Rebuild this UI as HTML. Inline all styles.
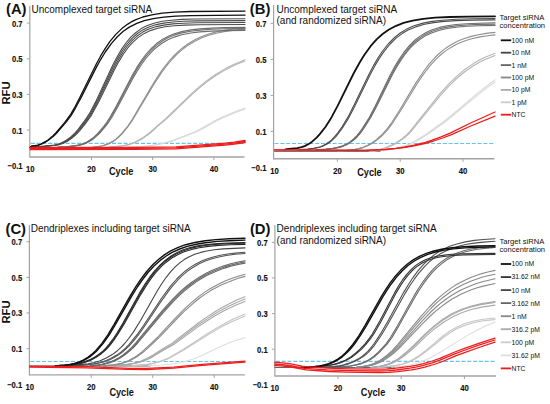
<!DOCTYPE html>
<html><head><meta charset="utf-8"><style>
html,body{margin:0;padding:0;background:#fff;}
body{width:550px;height:404px;overflow:hidden;}
svg{display:block;}
text{font-family:"Liberation Sans",sans-serif;fill:#111;}
.tk{font-size:9.2px;font-weight:bold;stroke:#111;stroke-width:0.15px;}
.tk2{font-size:9.4px;font-weight:bold;stroke:#111;stroke-width:0.15px;}
.tt{font-size:10px;}
.pl{font-size:14.8px;font-weight:bold;}
.cy{font-size:10.2px;font-weight:bold;}
.rfu{font-size:11.3px;font-weight:bold;}
.lh{font-size:7.6px;}
.li{font-size:6.8px;}
</style></head><body>
<svg width="550" height="404" viewBox="0 0 550 404">
<line x1="29.8" y1="6" x2="29.8" y2="157.6" stroke="#a3a3a3" stroke-width="1.2"/>
<line x1="29.8" y1="157.0" x2="244.5" y2="157.0" stroke="#a3a3a3" stroke-width="1.4"/>
<line x1="26.8" y1="23.1" x2="29.8" y2="23.1" stroke="#a3a3a3" stroke-width="1"/>
<line x1="26.8" y1="58.8" x2="29.8" y2="58.8" stroke="#a3a3a3" stroke-width="1"/>
<line x1="26.8" y1="94.4" x2="29.8" y2="94.4" stroke="#a3a3a3" stroke-width="1"/>
<line x1="26.8" y1="130.1" x2="29.8" y2="130.1" stroke="#a3a3a3" stroke-width="1"/>
<line x1="91.5" y1="157.0" x2="91.5" y2="160.0" stroke="#a3a3a3" stroke-width="1"/>
<line x1="152.7" y1="157.0" x2="152.7" y2="160.0" stroke="#a3a3a3" stroke-width="1"/>
<line x1="213.9" y1="157.0" x2="213.9" y2="160.0" stroke="#a3a3a3" stroke-width="1"/>
<line x1="30.8" y1="143.4" x2="244.5" y2="143.4" stroke="#62c4ee" stroke-width="1.1" stroke-dasharray="4,1.8"/>
<g fill="none" stroke-linecap="round" stroke-linejoin="round">
<path d="M30.3,147.5 L140,147.5" stroke="#666" stroke-width="1.2"/>
<path d="M126.3,147.5 127.8,147.1 141.3,146.5 150.3,145.7 160.8,143.8 169.8,141.4 177.3,138.7 193.8,132.2 201.3,128.5 214.8,120.8 220.8,117.8 234.3,111.9 245.0,108.0" stroke="#d9d9d9" stroke-width="1.1"/>
<path d="M127.8,147.5 129.3,147.1 142.8,146.5 151.8,145.6 162.3,143.8 171.3,141.4 195.3,132.3 202.8,128.7 214.8,121.8 220.8,118.8 234.3,113.0 245.0,109.1" stroke="#d9d9d9" stroke-width="1.1"/>
<path d="M108.3,147.5 109.8,147.1 123.3,145.7 129.3,144.4 135.3,142.0 142.8,137.8 148.8,133.5 157.8,125.3 166.8,117.7 190.8,94.3 198.3,87.6 205.8,81.5 214.8,75.0 225.3,68.6 234.3,64.2 245.0,59.8" stroke="#b5b5b5" stroke-width="1.1"/>
<path d="M108.3,147.5 109.8,147.1 123.3,145.8 129.3,144.6 135.3,142.5 142.8,138.4 147.3,135.4 150.3,133.0 157.8,126.2 166.8,118.7 192.3,94.2 199.8,87.6 207.3,81.6 216.3,75.3 225.3,69.9 234.3,65.3 245.0,61.0" stroke="#b5b5b5" stroke-width="1.1"/>
<path d="M91.8,147.5 93.3,147.1 97.8,146.6 102.3,145.8 105.3,144.9 108.3,143.7 112.8,141.2 115.8,139.1 118.8,136.5 121.8,133.4 127.8,126.0 132.3,119.3 151.8,86.0 157.8,76.4 162.3,69.9 168.3,62.0 172.8,56.9 177.3,52.4 183.3,47.2 189.3,43.0 195.3,39.5 201.3,36.7 208.8,34.0 216.3,31.9 225.3,30.1 234.3,28.9 245.0,27.9" stroke="#8f8f8f" stroke-width="1.1"/>
<path d="M91.8,147.5 102.3,146.0 108.3,144.0 112.8,141.7 115.8,139.6 118.8,137.1 121.8,134.2 127.8,127.0 132.3,120.5 153.3,85.1 162.3,71.5 168.3,63.6 172.8,58.5 177.3,53.9 183.3,48.7 189.3,44.4 195.3,40.9 201.3,38.1 208.8,35.3 216.3,33.2 225.3,31.4 234.3,30.1 245.0,29.1" stroke="#8f8f8f" stroke-width="1.1"/>
<path d="M57.3,147.5 58.8,147.1 66.3,146.7 73.8,145.9 78.3,145.1 82.8,143.8 87.3,141.7 90.3,139.8 93.3,137.6 97.8,133.3 103.8,126.3 106.8,122.3 109.8,117.6 115.8,106.9 132.3,75.2 136.8,67.4 141.3,60.5 145.8,54.5 151.8,47.8 156.3,43.8 162.3,39.4 168.3,36.2 174.3,33.8 181.8,31.6 190.8,29.9 199.8,28.9 211.8,28.1 225.3,27.6 245.0,27.4" stroke="#6e6e6e" stroke-width="1.1"/>
<path d="M57.3,147.5 58.8,147.1 66.3,146.7 75.3,145.8 79.8,145.0 82.8,144.1 87.3,142.2 90.3,140.4 93.3,138.2 97.8,134.2 100.8,131.0 105.3,125.5 108.3,121.3 111.3,116.5 117.3,105.8 132.3,77.1 136.8,69.4 141.3,62.4 145.8,56.3 151.8,49.5 156.3,45.4 162.3,41.0 168.3,37.6 174.3,35.1 181.8,32.9 190.8,31.2 199.8,30.1 211.8,29.3 225.3,28.8 245.0,28.6" stroke="#6e6e6e" stroke-width="1.1"/>
<path d="M58.8,147.5 60.3,147.1 67.8,146.7 75.3,145.9 79.8,145.1 84.3,143.9 88.8,141.8 91.8,140.0 94.8,137.7 99.3,133.6 105.3,126.7 108.3,122.7 111.3,118.2 117.3,107.7 132.3,79.4 136.8,71.7 141.3,64.7 145.8,58.5 151.8,51.7 156.3,47.5 162.3,43.0 168.3,39.6 174.3,37.1 181.8,34.8 190.8,33.0 199.8,31.9 211.8,31.1 225.3,30.6 245.0,30.4" stroke="#6e6e6e" stroke-width="1.1"/>
<path d="M30.3,147.5 31.8,147.0 45.3,146.1 54.3,145.1 57.3,144.5 61.8,142.8 66.3,140.3 70.8,137.0 75.3,132.6 78.3,129.1 84.3,121.1 87.3,116.9 90.3,112.0 96.3,100.4 112.8,65.0 117.3,56.5 121.8,48.9 126.3,42.5 130.8,37.2 135.3,33.0 141.3,28.6 147.3,25.6 154.8,23.0 162.3,21.3 171.3,20.2 181.8,19.4 195.3,19.0 245.0,18.7" stroke="#4c4c4c" stroke-width="1.1"/>
<path d="M30.3,147.5 31.8,147.0 42.3,146.4 54.3,145.2 58.8,144.3 63.3,142.5 67.8,139.9 72.3,136.5 75.3,133.6 78.3,130.2 84.3,122.5 88.8,116.2 90.3,113.7 97.8,99.4 112.8,67.6 117.3,59.1 121.8,51.5 126.3,45.0 129.3,41.3 132.3,38.1 136.8,34.0 142.8,29.9 148.8,27.0 156.3,24.6 163.8,23.1 172.8,22.0 183.3,21.3 196.8,20.9 245.0,20.6" stroke="#4c4c4c" stroke-width="1.1"/>
<path d="M30.3,147.5 31.8,147.0 45.3,146.2 55.8,145.2 58.8,144.6 63.3,142.9 67.8,140.5 72.3,137.2 75.3,134.5 79.8,129.5 84.3,123.7 88.8,117.7 91.8,112.9 97.8,101.6 114.3,67.3 118.8,59.0 123.3,51.7 127.8,45.5 132.3,40.4 136.8,36.3 142.8,32.1 148.8,29.1 156.3,26.6 163.8,25.1 172.8,23.9 183.3,23.2 196.8,22.8 245.0,22.5" stroke="#4c4c4c" stroke-width="1.1"/>
<path d="M30.3,147.5 31.8,147.1 45.3,146.3 55.8,145.3 58.8,144.8 63.3,143.3 67.8,141.0 72.3,137.9 76.8,133.9 79.8,130.6 85.8,123.1 90.3,117.0 91.8,114.6 99.3,100.7 114.3,69.9 118.8,61.6 123.3,54.2 127.8,48.0 130.8,44.4 133.8,41.3 138.3,37.4 144.3,33.4 150.3,30.6 157.8,28.3 165.3,26.8 174.3,25.8 184.8,25.1 198.3,24.7 245.0,24.5" stroke="#4c4c4c" stroke-width="1.1"/>
<path d="M30.3,147.3 31.8,146.1 37.8,145.2 40.8,144.0 45.3,141.7 48.3,139.7 52.8,136.0 55.8,133.0 64.8,122.4 70.8,114.1 75.3,106.2 79.8,97.5 96.3,64.0 100.8,55.7 105.3,48.3 109.8,41.7 115.8,34.4 121.8,28.6 127.8,24.1 130.8,22.2 135.3,19.9 142.8,17.0 151.8,14.8 162.3,13.2 174.3,12.2 190.8,11.5 245.0,11.1" stroke="#111111" stroke-width="1.3"/>
<path d="M30.3,147.3 31.8,146.1 37.8,145.3 40.8,144.3 45.3,142.1 48.3,140.3 52.8,136.8 55.8,134.0 66.3,121.9 70.8,115.9 75.3,108.3 81.3,97.1 96.3,67.4 100.8,59.3 105.3,52.0 111.3,43.6 117.3,36.8 123.3,31.3 129.3,27.1 136.8,23.3 144.3,20.7 153.3,18.6 163.8,17.1 175.8,16.2 190.8,15.6 245.0,15.2" stroke="#111111" stroke-width="1.3"/>
<path d="M30.3,147.5 135.3,147.3 175.8,146.8 225.3,143.2 234.3,142.2 245.0,140.5" stroke="#ee1c1c" stroke-width="1.3"/>
<path d="M30.3,148.5 135.3,148.3 175.8,147.8 225.3,144.2 234.3,143.2 245.0,141.5" stroke="#ee1c1c" stroke-width="1.3"/>
<path d="M30.3,149.5 135.3,149.3 175.8,148.8 225.3,145.2 234.3,144.2 245.0,142.5" stroke="#ee1c1c" stroke-width="1.3"/>
</g>
<text transform="translate(22.6,26.5) scale(0.83,1)" class="tk" text-anchor="end">0.7</text>
<text transform="translate(22.6,62.2) scale(0.83,1)" class="tk" text-anchor="end">0.5</text>
<text transform="translate(22.6,97.8) scale(0.83,1)" class="tk" text-anchor="end">0.3</text>
<text transform="translate(22.6,133.5) scale(0.83,1)" class="tk" text-anchor="end">0.1</text>
<text transform="translate(22.6,169.2) scale(0.83,1)" class="tk" text-anchor="end">−0.1</text>
<text transform="translate(30.3,171.7) scale(0.82,1)" class="tk2" text-anchor="middle">10</text>
<text transform="translate(91.5,171.7) scale(0.82,1)" class="tk2" text-anchor="middle">20</text>
<text transform="translate(152.7,171.7) scale(0.82,1)" class="tk2" text-anchor="middle">30</text>
<text transform="translate(213.9,171.7) scale(0.82,1)" class="tk2" text-anchor="middle">40</text>
<line x1="273.6" y1="5" x2="273.6" y2="159.4" stroke="#a3a3a3" stroke-width="1.2"/>
<line x1="273.6" y1="158.8" x2="494.4" y2="158.8" stroke="#a3a3a3" stroke-width="1.4"/>
<line x1="270.6" y1="23.4" x2="273.6" y2="23.4" stroke="#a3a3a3" stroke-width="1"/>
<line x1="270.6" y1="59.4" x2="273.6" y2="59.4" stroke="#a3a3a3" stroke-width="1"/>
<line x1="270.6" y1="95.4" x2="273.6" y2="95.4" stroke="#a3a3a3" stroke-width="1"/>
<line x1="270.6" y1="131.4" x2="273.6" y2="131.4" stroke="#a3a3a3" stroke-width="1"/>
<line x1="337.4" y1="158.8" x2="337.4" y2="161.8" stroke="#a3a3a3" stroke-width="1"/>
<line x1="400.2" y1="158.8" x2="400.2" y2="161.8" stroke="#a3a3a3" stroke-width="1"/>
<line x1="463.0" y1="158.8" x2="463.0" y2="161.8" stroke="#a3a3a3" stroke-width="1"/>
<line x1="274.6" y1="143.5" x2="494.4" y2="143.5" stroke="#62c4ee" stroke-width="1.1" stroke-dasharray="4,1.8"/>
<g fill="none" stroke-linecap="round" stroke-linejoin="round">
<path d="M274.6,151.3 L380,151.3" stroke="#777" stroke-width="1.2"/>
<path d="M370.6,151.3 372.1,150.9 379.6,150.5 387.1,149.8 399.1,147.8 406.6,145.2 411.1,143.2 415.6,140.8 426.1,134.2 444.1,121.3 450.1,116.5 477.1,93.6 486.1,86.5 495.0,79.9" stroke="#d9d9d9" stroke-width="1.1"/>
<path d="M372.1,151.3 373.6,150.9 387.1,149.9 399.1,148.1 403.6,146.8 408.1,145.1 412.6,143.1 417.1,140.7 427.6,134.2 445.6,121.5 478.6,94.4 487.6,87.4 495.0,82.0" stroke="#d9d9d9" stroke-width="1.1"/>
<path d="M369.1,151.3 370.6,150.9 375.1,150.4 378.1,149.9 385.6,147.7 391.6,145.1 394.6,143.6 399.1,140.8 402.1,138.6 406.6,134.8 409.6,131.9 439.6,94.2 448.6,84.2 456.1,76.8 465.1,69.2 474.1,63.1 478.6,60.5 484.6,57.4 495.0,53.2" stroke="#b5b5b5" stroke-width="1.1"/>
<path d="M370.6,151.3 372.1,150.9 376.6,150.4 379.6,149.8 387.1,147.5 391.6,145.6 396.1,143.4 400.6,140.5 403.6,138.3 408.1,134.5 411.1,131.5 439.6,96.3 448.6,86.3 456.1,79.0 465.1,71.5 474.1,65.3 478.6,62.7 484.6,59.7 495.0,55.4" stroke="#b5b5b5" stroke-width="1.1"/>
<path d="M337.6,151.3 339.1,150.9 346.6,150.4 354.1,149.5 358.6,148.6 363.1,147.3 367.6,145.3 372.1,142.8 376.6,139.5 381.1,135.5 387.1,128.9 391.6,122.8 399.1,111.0 415.6,83.4 424.6,70.0 429.1,64.2 433.6,59.1 438.1,54.5 444.1,49.4 448.6,46.2 454.6,42.7 459.1,40.6 465.1,38.2 471.1,36.4 478.6,34.7 486.1,33.4 495.0,32.4" stroke="#8f8f8f" stroke-width="1.1"/>
<path d="M337.6,151.3 339.1,150.9 346.6,150.5 354.1,149.6 358.6,148.9 363.1,147.6 367.6,145.8 372.1,143.5 376.6,140.4 381.1,136.5 387.1,130.3 393.1,122.3 400.6,110.7 417.1,83.7 421.6,76.9 426.1,70.7 430.6,65.1 435.1,60.2 439.6,55.8 445.6,50.9 450.1,47.9 456.1,44.5 460.6,42.5 466.6,40.3 472.6,38.5 480.1,36.9 487.6,35.7 495.0,34.9" stroke="#8f8f8f" stroke-width="1.1"/>
<path d="M316.6,150.0 318.1,149.6 325.6,149.2 333.1,148.3 337.6,147.4 342.1,146.1 346.6,144.0 349.6,142.2 354.1,138.5 357.1,135.4 361.6,129.6 369.1,117.7 375.1,106.2 390.1,75.3 394.6,66.8 399.1,59.3 403.6,52.7 409.6,45.3 414.1,40.8 420.1,36.1 426.1,32.5 432.1,29.8 439.6,27.4 447.1,25.8 456.1,24.5 466.6,23.7 478.6,23.2 495.0,22.8" stroke="#6e6e6e" stroke-width="1.1"/>
<path d="M316.6,150.0 318.1,149.6 325.6,149.2 333.1,148.4 337.6,147.6 342.1,146.4 346.6,144.4 349.6,142.6 354.1,139.2 357.1,136.2 360.1,132.6 363.1,128.5 370.6,116.4 376.6,104.8 390.1,77.2 394.6,68.7 399.1,61.1 403.6,54.5 409.6,47.0 414.1,42.5 420.1,37.6 426.1,34.0 432.1,31.2 439.6,28.8 447.1,27.1 456.1,25.9 466.6,25.0 478.6,24.4 495.0,24.1" stroke="#6e6e6e" stroke-width="1.1"/>
<path d="M318.1,150.0 319.6,149.6 327.1,149.1 334.6,148.3 339.1,147.4 342.1,146.6 346.6,144.8 349.6,143.1 354.1,139.8 357.1,137.0 360.1,133.6 363.1,129.5 370.6,117.8 376.6,106.5 391.6,76.2 396.1,68.0 400.6,60.6 405.1,54.2 409.6,48.7 414.1,44.1 420.1,39.2 426.1,35.4 432.1,32.7 439.6,30.2 447.1,28.5 456.1,27.2 466.6,26.3 478.6,25.7 495.0,25.4" stroke="#6e6e6e" stroke-width="1.1"/>
<path d="M298.6,150.0 300.1,149.6 307.6,149.1 313.6,148.3 318.1,147.4 321.1,146.4 325.6,144.3 328.6,142.3 331.6,139.8 334.6,136.7 337.6,133.0 342.1,126.8 348.1,116.9 354.1,105.1 369.1,73.9 373.6,65.4 378.1,57.8 382.6,51.0 388.6,43.5 394.6,37.5 400.6,32.7 406.6,29.1 414.1,25.8 423.1,23.1 432.1,21.4 442.6,20.2 456.1,19.3 472.6,18.8 495.0,18.6" stroke="#4c4c4c" stroke-width="1.1"/>
<path d="M300.1,150.0 301.6,149.6 307.6,149.2 315.1,148.2 319.6,147.3 322.6,146.3 327.1,144.0 330.1,142.0 333.1,139.4 336.1,136.3 342.1,128.4 348.1,119.0 354.1,107.6 370.6,73.7 375.1,65.4 379.6,57.9 384.1,51.4 390.1,44.0 396.1,38.1 402.1,33.6 408.1,30.1 415.6,26.9 424.6,24.3 433.6,22.6 444.1,21.4 456.1,20.6 472.6,20.1 495.0,19.9" stroke="#4c4c4c" stroke-width="1.1"/>
<path d="M285.1,149.5 286.6,149.1 297.1,148.1 301.6,147.1 304.6,146.1 309.1,143.7 312.1,141.7 316.6,137.7 319.6,134.4 325.6,126.7 331.6,117.2 337.6,105.9 354.1,72.5 360.1,61.7 364.6,54.5 370.6,46.2 376.6,39.4 382.6,34.0 388.6,29.8 396.1,25.8 403.6,22.9 412.6,20.6 423.1,18.8 435.1,17.7 450.1,17.0 468.1,16.6 495.0,16.4" stroke="#111111" stroke-width="1.8"/>
<path d="M274.6,149.8 364.6,150.4 385.6,149.4 396.1,148.3 405.1,147.0 414.1,145.2 423.1,143.0 432.1,140.2 441.1,136.9 450.1,133.1 469.6,123.5 495.0,112.0" stroke="#ee1c1c" stroke-width="1.3"/>
<path d="M274.6,149.8 364.6,150.4 385.6,149.5 394.6,148.7 405.1,147.4 414.1,145.9 424.6,143.5 433.6,141.0 442.6,138.0 451.6,134.6 469.6,126.5 495.0,116.2" stroke="#ee1c1c" stroke-width="1.3"/>
</g>
<text transform="translate(266.4,26.8) scale(0.83,1)" class="tk" text-anchor="end">0.7</text>
<text transform="translate(266.4,62.8) scale(0.83,1)" class="tk" text-anchor="end">0.5</text>
<text transform="translate(266.4,98.8) scale(0.83,1)" class="tk" text-anchor="end">0.3</text>
<text transform="translate(266.4,134.8) scale(0.83,1)" class="tk" text-anchor="end">0.1</text>
<text transform="translate(266.4,170.8) scale(0.83,1)" class="tk" text-anchor="end">−0.1</text>
<text transform="translate(274.6,173.5) scale(0.82,1)" class="tk2" text-anchor="middle">10</text>
<text transform="translate(337.4,173.5) scale(0.82,1)" class="tk2" text-anchor="middle">20</text>
<text transform="translate(400.2,173.5) scale(0.82,1)" class="tk2" text-anchor="middle">30</text>
<text transform="translate(463.0,173.5) scale(0.82,1)" class="tk2" text-anchor="middle">40</text>
<line x1="29.4" y1="225" x2="29.4" y2="375.5" stroke="#a3a3a3" stroke-width="1.2"/>
<line x1="29.4" y1="374.9" x2="244.9" y2="374.9" stroke="#a3a3a3" stroke-width="1.4"/>
<line x1="26.4" y1="241.7" x2="29.4" y2="241.7" stroke="#a3a3a3" stroke-width="1"/>
<line x1="26.4" y1="277.4" x2="29.4" y2="277.4" stroke="#a3a3a3" stroke-width="1"/>
<line x1="26.4" y1="313.0" x2="29.4" y2="313.0" stroke="#a3a3a3" stroke-width="1"/>
<line x1="26.4" y1="348.7" x2="29.4" y2="348.7" stroke="#a3a3a3" stroke-width="1"/>
<line x1="91.2" y1="374.9" x2="91.2" y2="377.9" stroke="#a3a3a3" stroke-width="1"/>
<line x1="152.7" y1="374.9" x2="152.7" y2="377.9" stroke="#a3a3a3" stroke-width="1"/>
<line x1="214.2" y1="374.9" x2="214.2" y2="377.9" stroke="#a3a3a3" stroke-width="1"/>
<line x1="30.4" y1="361.5" x2="244.9" y2="361.5" stroke="#62c4ee" stroke-width="1.1" stroke-dasharray="4,1.8"/>
<g fill="none" stroke-linecap="round" stroke-linejoin="round">
<path d="M29.7,366 L150,366" stroke="#666" stroke-width="1.2"/>
<path d="M148.2,366.0 149.7,365.6 161.7,365.0 172.2,364.0 179.7,362.7 187.2,360.9 193.2,358.9 200.7,355.9 220.2,346.7 229.2,342.8 236.7,340.1 245.0,337.7" stroke="#dedede" stroke-width="1.1"/>
<path d="M131.7,366.0 133.2,365.6 146.7,364.4 152.7,363.4 158.7,361.8 166.2,359.0 170.7,356.7 182.7,349.7 209.7,332.3 220.2,326.0 232.2,319.6 245.0,314.1" stroke="#c4c4c4" stroke-width="1.1"/>
<path d="M133.2,366.0 134.7,365.6 148.2,364.4 154.2,363.3 160.2,361.7 167.7,358.9 172.2,356.6 184.2,349.7 211.2,332.9 220.2,327.6 232.2,321.4 245.0,316.0" stroke="#c4c4c4" stroke-width="1.1"/>
<path d="M110.7,366.0 112.2,365.6 124.2,364.7 133.2,363.3 137.7,362.2 140.7,361.2 148.2,357.8 152.7,355.2 163.2,348.4 172.2,343.1 197.7,323.5 206.7,317.1 214.2,312.2 221.7,307.7 229.2,303.7 236.7,300.1 245.0,296.7" stroke="#a8a8a8" stroke-width="1.1"/>
<path d="M112.2,366.0 113.7,365.6 127.2,364.5 134.7,363.2 140.7,361.6 148.2,358.5 154.2,355.1 164.7,348.5 172.2,344.4 197.7,325.3 206.7,319.1 214.2,314.3 221.7,309.9 229.2,305.9 236.7,302.4 245.0,299.1" stroke="#a8a8a8" stroke-width="1.1"/>
<path d="M113.7,366.0 115.2,365.6 128.7,364.4 136.2,363.2 143.7,361.0 149.7,358.4 154.2,355.9 164.7,349.5 173.7,344.6 197.7,327.1 206.7,321.0 214.2,316.3 221.7,312.0 229.2,308.2 236.7,304.7 245.0,301.4" stroke="#a8a8a8" stroke-width="1.1"/>
<path d="M103.2,366.0 104.7,365.6 113.7,364.7 121.2,363.2 125.7,361.8 128.7,360.6 134.7,357.3 137.7,355.3 142.2,351.7 151.2,343.5 158.7,336.1 173.7,319.8 182.7,310.6 191.7,302.3 199.2,296.1 203.7,292.9 209.7,288.9 220.2,283.2 226.2,280.5 232.2,278.2 238.2,276.2 245.0,274.3" stroke="#8a8a8a" stroke-width="1.1"/>
<path d="M104.7,366.0 106.2,365.6 115.2,364.7 122.7,363.2 127.2,361.8 130.2,360.6 136.2,357.3 143.7,351.8 152.7,343.7 160.2,336.4 175.2,320.5 184.2,311.4 193.2,303.3 200.7,297.3 205.2,294.1 211.2,290.3 221.7,284.7 232.2,280.4 238.2,278.3 245.0,276.4" stroke="#8a8a8a" stroke-width="1.1"/>
<path d="M89.7,366.0 91.2,365.6 97.2,365.1 101.7,364.4 109.2,362.3 113.7,360.5 118.2,358.1 122.7,355.1 125.7,352.8 131.7,347.3 136.2,342.4 161.7,311.4 172.2,299.6 178.2,293.6 182.7,289.5 188.7,284.5 194.7,280.1 199.2,277.2 205.2,273.8 211.2,270.8 217.2,268.3 223.2,266.1 230.7,263.8 238.2,262.0 245.0,260.7" stroke="#6a6a6a" stroke-width="1.1"/>
<path d="M91.2,366.0 92.7,365.6 98.7,365.0 103.2,364.3 110.7,362.1 115.2,360.2 119.7,357.8 124.2,354.7 127.2,352.3 131.7,348.3 136.2,343.6 145.2,333.0 161.7,312.9 172.2,301.1 178.2,295.1 184.2,289.6 190.2,284.8 196.2,280.5 200.7,277.7 206.7,274.3 212.7,271.4 218.7,269.0 224.7,266.9 230.7,265.1 238.2,263.2 245.0,261.9" stroke="#6a6a6a" stroke-width="1.1"/>
<path d="M91.2,366.0 92.7,365.6 98.7,365.1 103.2,364.4 110.7,362.5 115.2,360.7 119.7,358.3 124.2,355.4 127.2,353.1 133.2,347.8 137.7,343.0 163.2,312.6 173.7,301.1 179.7,295.1 184.2,291.1 190.2,286.2 196.2,281.9 200.7,279.0 206.7,275.6 212.7,272.7 218.7,270.2 224.7,268.1 230.7,266.3 238.2,264.4 245.0,263.1" stroke="#6a6a6a" stroke-width="1.1"/>
<path d="M68.7,366.0 70.2,365.6 80.7,365.2 88.2,364.5 94.2,363.7 100.2,362.5 106.2,360.6 110.7,358.6 116.7,355.1 121.2,351.9 125.7,348.0 128.7,344.9 137.7,333.9 143.7,325.3 161.7,298.0 170.7,285.9 176.7,279.0 181.2,274.6 185.7,270.7 191.7,266.4 196.2,263.7 202.2,260.8 208.2,258.5 214.2,256.7 220.2,255.3 227.7,254.0 235.2,253.1 245.0,252.3" stroke="#555555" stroke-width="1.1"/>
<path d="M70.2,366.0 71.7,365.6 82.2,365.2 89.7,364.5 95.7,363.7 100.2,362.8 104.7,361.6 109.2,359.9 113.7,357.7 118.2,355.1 122.7,351.8 125.7,349.2 128.7,346.4 133.2,341.3 139.2,333.8 142.2,329.6 160.2,302.6 169.2,290.1 173.7,284.6 178.2,279.6 182.7,275.2 187.2,271.4 193.2,267.2 199.2,263.8 205.2,261.1 211.2,259.0 218.7,257.0 226.2,255.5 235.2,254.3 245.0,253.5" stroke="#555555" stroke-width="1.1"/>
<path d="M58.2,366.0 59.7,365.6 71.7,365.2 82.2,364.4 88.2,363.7 94.2,362.5 100.2,360.7 106.2,358.1 112.2,354.6 116.7,351.3 121.2,347.2 124.2,344.0 128.7,338.5 133.2,332.4 140.7,320.3 157.2,291.0 161.7,283.8 166.2,277.3 170.7,271.7 175.2,266.9 179.7,262.9 184.2,259.6 188.7,257.0 194.7,254.3 200.7,252.4 206.7,251.0 214.2,249.8 223.2,248.9 245.0,247.9" stroke="#444444" stroke-width="1.1"/>
<path d="M55.2,366.0 56.7,365.6 65.7,365.2 73.2,364.5 79.2,363.4 83.7,362.1 89.7,359.8 94.2,357.5 98.7,354.5 103.2,350.8 106.2,347.7 109.2,344.2 112.2,340.2 116.7,333.5 122.7,323.5 140.7,291.1 145.2,283.8 149.7,277.2 154.2,271.4 160.2,264.8 164.7,260.7 170.7,256.2 176.7,252.7 182.7,250.1 190.2,247.6 197.7,245.9 206.7,244.6 217.2,243.6 229.2,243.0 245.0,242.5" stroke="#2a2a2a" stroke-width="1.1"/>
<path d="M56.7,366.0 58.2,365.6 67.2,365.1 74.7,364.4 80.7,363.2 85.2,361.9 91.2,359.5 95.7,357.0 100.2,354.0 104.7,350.1 107.7,347.0 110.7,343.3 113.7,339.2 118.2,332.4 124.2,322.3 140.7,292.7 145.2,285.3 149.7,278.7 154.2,272.7 160.2,266.0 164.7,261.8 170.7,257.2 176.7,253.7 182.7,250.9 190.2,248.4 197.7,246.7 206.7,245.3 217.2,244.3 229.2,243.6 245.0,243.2" stroke="#2a2a2a" stroke-width="1.1"/>
<path d="M56.7,366.0 58.2,365.6 67.2,365.2 74.7,364.5 80.7,363.4 85.2,362.2 91.2,359.9 95.7,357.5 100.2,354.6 104.7,350.9 107.7,347.9 110.7,344.4 113.7,340.5 118.2,333.8 124.2,323.9 140.7,294.6 146.7,284.9 151.2,278.4 155.7,272.7 161.7,266.2 166.2,262.2 172.2,257.8 178.2,254.4 184.2,251.8 191.7,249.4 199.2,247.7 208.2,246.4 218.7,245.4 230.7,244.8 245.0,244.4" stroke="#2a2a2a" stroke-width="1.1"/>
<path d="M55.2,366.0 56.7,365.6 64.2,365.1 70.2,364.4 74.7,363.4 79.2,361.9 83.7,359.9 88.2,357.1 92.7,353.5 95.7,350.7 101.7,343.7 107.7,335.1 113.7,325.1 130.2,295.9 136.2,286.1 140.7,279.4 146.7,271.5 152.7,264.8 158.7,259.2 164.7,254.6 170.7,250.9 178.2,247.4 185.7,244.7 194.7,242.5 205.2,240.7 215.7,239.6 229.2,238.7 245.0,238.2" stroke="#111111" stroke-width="1.4"/>
<path d="M56.7,366.0 58.2,365.6 65.7,365.1 71.7,364.3 76.2,363.3 80.7,361.8 85.2,359.7 89.7,356.9 94.2,353.3 97.2,350.4 103.2,343.4 109.2,334.8 115.2,324.9 131.7,296.1 137.7,286.5 142.2,280.0 148.2,272.3 154.2,265.8 160.2,260.4 166.2,256.0 172.2,252.4 179.7,249.0 187.2,246.4 196.2,244.2 205.2,242.7 217.2,241.4 229.2,240.7 245.0,240.1" stroke="#111111" stroke-width="1.4"/>
<path d="M29.7,366.1 86.7,366.7 128.7,368.3 146.7,368.4 173.7,367.1 202.2,364.3 245.0,361.1" stroke="#ee1c1c" stroke-width="1.3"/>
<path d="M29.7,367.2 86.7,367.8 128.7,369.4 146.7,369.5 173.7,368.2 202.2,365.4 245.0,362.2" stroke="#ee1c1c" stroke-width="1.3"/>
</g>
<text transform="translate(22.2,245.1) scale(0.83,1)" class="tk" text-anchor="end">0.7</text>
<text transform="translate(22.2,280.8) scale(0.83,1)" class="tk" text-anchor="end">0.5</text>
<text transform="translate(22.2,316.4) scale(0.83,1)" class="tk" text-anchor="end">0.3</text>
<text transform="translate(22.2,352.1) scale(0.83,1)" class="tk" text-anchor="end">0.1</text>
<text transform="translate(22.2,387.8) scale(0.83,1)" class="tk" text-anchor="end">−0.1</text>
<text transform="translate(29.7,389.6) scale(0.82,1)" class="tk2" text-anchor="middle">10</text>
<text transform="translate(91.2,389.6) scale(0.82,1)" class="tk2" text-anchor="middle">20</text>
<text transform="translate(152.7,389.6) scale(0.82,1)" class="tk2" text-anchor="middle">30</text>
<text transform="translate(214.2,389.6) scale(0.82,1)" class="tk2" text-anchor="middle">40</text>
<line x1="274.9" y1="225" x2="274.9" y2="376.6" stroke="#a3a3a3" stroke-width="1.2"/>
<line x1="274.9" y1="376.0" x2="496.0" y2="376.0" stroke="#a3a3a3" stroke-width="1.4"/>
<line x1="271.9" y1="242.4" x2="274.9" y2="242.4" stroke="#a3a3a3" stroke-width="1"/>
<line x1="271.9" y1="278.0" x2="274.9" y2="278.0" stroke="#a3a3a3" stroke-width="1"/>
<line x1="271.9" y1="313.6" x2="274.9" y2="313.6" stroke="#a3a3a3" stroke-width="1"/>
<line x1="271.9" y1="349.2" x2="274.9" y2="349.2" stroke="#a3a3a3" stroke-width="1"/>
<line x1="338.0" y1="376.0" x2="338.0" y2="379.0" stroke="#a3a3a3" stroke-width="1"/>
<line x1="401.2" y1="376.0" x2="401.2" y2="379.0" stroke="#a3a3a3" stroke-width="1"/>
<line x1="464.4" y1="376.0" x2="464.4" y2="379.0" stroke="#a3a3a3" stroke-width="1"/>
<line x1="275.9" y1="361.4" x2="496.0" y2="361.4" stroke="#62c4ee" stroke-width="1.1" stroke-dasharray="4,1.8"/>
<g fill="none" stroke-linecap="round" stroke-linejoin="round">
<path d="M274.8,367.5 L395,367.5" stroke="#666" stroke-width="1.2"/>
<path d="M391.8,367.5 393.3,367.1 403.8,366.1 411.3,364.8 418.8,362.7 426.3,359.7 432.3,356.8 439.8,352.6 462.3,338.6 472.8,332.4 483.3,327.0 495.0,322.0" stroke="#dcdcdc" stroke-width="1.1"/>
<path d="M376.8,367.5 378.3,367.1 388.8,366.4 396.3,365.4 402.3,364.0 408.3,361.8 414.3,358.7 420.3,354.7 424.8,351.3 438.3,339.8 444.3,335.0 450.3,330.8 456.3,327.4 463.8,324.0 472.8,321.3 483.3,319.3 495.0,318.0" stroke="#c5c5c5" stroke-width="1.1"/>
<path d="M378.3,367.5 379.8,367.1 388.8,366.6 396.3,365.6 402.3,364.3 408.3,362.4 414.3,359.5 420.3,355.8 426.3,351.3 444.3,336.7 451.8,331.6 457.8,328.3 465.3,325.2 474.3,322.5 483.3,320.8 495.0,319.6" stroke="#c5c5c5" stroke-width="1.1"/>
<path d="M370.8,367.5 372.3,367.1 379.8,366.2 385.8,364.8 391.8,362.4 397.8,358.9 402.3,355.5 408.3,350.3 414.3,344.7 424.8,334.2 433.8,326.1 442.8,319.2 451.8,313.7 460.8,309.6 471.3,306.0 481.8,303.6 495.0,301.6" stroke="#aaaaaa" stroke-width="1.1"/>
<path d="M372.3,367.5 373.8,367.1 381.3,366.1 387.3,364.6 393.3,362.1 397.8,359.5 402.3,356.3 408.3,351.2 414.3,345.7 426.3,333.9 435.3,325.9 442.8,320.2 451.8,314.7 460.8,310.5 465.3,308.8 471.3,306.9 481.8,304.4 495.0,302.4" stroke="#aaaaaa" stroke-width="1.1"/>
<path d="M372.3,367.5 373.8,367.1 381.3,366.3 387.3,365.0 393.3,362.7 399.3,359.4 403.8,356.2 409.8,351.3 415.8,346.0 426.3,335.9 435.3,328.2 444.3,321.7 453.3,316.5 462.3,312.5 471.3,309.5 481.8,307.1 495.0,305.1" stroke="#aaaaaa" stroke-width="1.1"/>
<path d="M355.8,367.5 357.3,367.0 363.3,366.3 367.8,365.5 373.8,363.6 379.8,360.5 382.8,358.5 387.3,355.0 391.8,350.8 397.8,344.4 420.3,317.1 429.3,307.0 435.3,301.0 439.8,296.9 444.3,293.1 450.3,288.6 454.8,285.6 460.8,282.2 465.3,279.9 471.3,277.3 481.8,273.6 487.8,272.0 495.0,270.4" stroke="#8a8a8a" stroke-width="1.1"/>
<path d="M355.8,367.5 357.3,367.1 361.8,366.7 367.8,365.7 373.8,364.0 379.8,361.2 382.8,359.3 387.3,356.0 391.8,352.1 397.8,346.0 420.3,319.8 430.8,308.5 436.8,302.7 441.3,298.8 450.3,292.0 454.8,289.1 460.8,285.7 465.3,283.5 471.3,280.9 481.8,277.3 487.8,275.7 495.0,274.2" stroke="#8a8a8a" stroke-width="1.1"/>
<path d="M355.8,367.5 367.8,365.9 373.8,364.4 379.8,361.9 382.8,360.2 387.3,357.1 391.8,353.5 397.8,347.8 421.8,321.3 430.8,312.0 436.8,306.5 441.3,302.7 445.8,299.3 451.8,295.2 460.8,290.0 471.3,285.4 477.3,283.3 483.3,281.5 495.0,278.8" stroke="#8a8a8a" stroke-width="1.1"/>
<path d="M357.3,367.5 358.8,367.1 369.3,365.9 375.3,364.3 381.3,361.7 384.3,360.1 388.8,357.1 393.3,353.5 399.3,348.0 421.8,324.3 430.8,315.5 436.8,310.2 441.3,306.6 445.8,303.2 451.8,299.3 460.8,294.3 471.3,289.8 477.3,287.8 483.3,286.1 495.0,283.5" stroke="#8a8a8a" stroke-width="1.1"/>
<path d="M333.3,367.5 334.8,367.1 343.8,366.6 349.8,366.0 355.8,364.9 360.3,363.6 364.8,361.9 369.3,359.4 373.8,356.1 378.3,352.1 385.8,344.1 390.3,337.8 397.8,325.2 414.3,295.4 418.8,288.0 423.3,281.3 427.8,275.3 432.3,270.1 436.8,265.7 441.3,261.9 445.8,258.7 451.8,255.3 457.8,252.8 463.8,250.8 469.8,249.3 477.3,248.0 484.8,247.0 495.0,246.2" stroke="#6a6a6a" stroke-width="1.1"/>
<path d="M334.8,367.5 336.3,367.1 345.3,366.6 351.3,366.0 357.3,364.8 361.8,363.6 366.3,361.8 370.8,359.3 375.3,356.0 379.8,351.9 387.3,343.9 391.8,337.6 399.3,325.1 414.3,298.2 418.8,290.7 423.3,283.9 427.8,277.8 432.3,272.4 436.8,267.8 442.8,262.7 447.3,259.6 453.3,256.3 457.8,254.4 463.8,252.3 469.8,250.7 477.3,249.3 484.8,248.4 495.0,247.5" stroke="#6a6a6a" stroke-width="1.1"/>
<path d="M322.8,367.5 324.3,367.1 333.3,366.6 339.3,365.8 343.8,364.8 348.3,363.4 354.3,361.0 358.8,358.6 363.3,355.5 367.8,351.3 370.8,347.9 373.8,344.0 381.3,332.6 387.3,322.2 403.8,292.1 408.3,284.7 412.8,277.8 417.3,271.7 423.3,264.6 427.8,260.1 433.8,255.1 438.3,252.0 444.3,248.7 450.3,246.1 457.8,243.7 465.3,241.9 474.3,240.4 483.3,239.5 495.0,238.7" stroke="#505050" stroke-width="1.1"/>
<path d="M324.3,367.5 325.8,367.1 333.3,366.7 339.3,366.1 343.8,365.2 348.3,363.9 354.3,361.6 358.8,359.4 363.3,356.6 367.8,352.8 370.8,349.7 373.8,346.1 381.3,335.2 387.3,325.2 405.3,293.1 409.8,285.8 414.3,279.2 418.8,273.2 424.8,266.3 429.3,261.9 435.3,257.1 439.8,254.1 445.8,250.9 451.8,248.4 459.3,246.0 466.8,244.3 474.3,243.1 483.3,242.1 495.0,241.3" stroke="#505050" stroke-width="1.1"/>
<path d="M298.8,367.5 300.3,367.1 312.3,366.7 322.8,366.1 328.8,365.3 333.3,364.5 339.3,362.7 345.3,360.2 349.8,357.6 355.8,353.0 360.3,348.9 364.8,344.1 369.3,338.4 372.3,334.0 379.8,321.0 394.8,292.4 399.3,284.8 402.3,280.2 406.8,274.3 411.3,269.4 415.8,265.4 420.3,262.4 424.8,260.0 430.8,257.8 436.8,256.3 444.3,255.1 451.8,254.3 462.3,253.8 495.0,253.4" stroke="#333333" stroke-width="1.1"/>
<path d="M300.3,367.5 301.8,367.1 313.8,366.7 324.3,366.0 330.3,365.3 334.8,364.4 342.3,362.1 346.8,360.1 351.3,357.5 357.3,352.9 361.8,348.8 366.3,343.9 370.8,338.3 373.8,333.9 381.3,320.9 396.3,292.6 400.8,285.1 403.8,280.7 408.3,274.8 412.8,270.0 417.3,266.2 421.8,263.3 426.3,261.0 432.3,258.8 438.3,257.3 445.8,256.2 453.3,255.5 463.8,254.9 495.0,254.5" stroke="#333333" stroke-width="1.1"/>
<path d="M304.8,367.5 306.3,367.1 313.8,366.6 319.8,365.9 324.3,365.0 328.8,363.6 333.3,361.6 337.8,359.1 342.3,355.7 345.3,353.0 348.3,349.8 352.8,344.5 358.8,335.9 364.8,325.9 381.3,296.6 385.8,289.4 390.3,282.7 394.8,276.8 400.8,270.1 406.8,264.5 412.8,260.1 418.8,256.6 426.3,253.3 433.8,251.0 442.8,249.0 451.8,247.7 463.8,246.7 477.3,246.0 495.0,245.6" stroke="#111111" stroke-width="1.4"/>
<path d="M304.8,367.5 306.3,367.1 313.8,366.7 319.8,366.1 324.3,365.3 328.8,364.0 333.3,362.3 337.8,359.9 342.3,356.8 346.8,352.8 349.8,349.7 354.3,344.3 360.3,335.7 366.3,325.8 382.8,296.8 387.3,289.7 391.8,283.2 396.3,277.4 402.3,270.7 408.3,265.3 414.3,261.0 420.3,257.6 427.8,254.4 435.3,252.0 444.3,250.1 453.3,248.9 465.3,247.9 478.8,247.2 495.0,246.9" stroke="#111111" stroke-width="1.4"/>
<path d="M274.8,362.2 289.8,363.7 301.8,366.1 304.8,366.5 327.3,368.1 348.3,368.8 378.3,369.2 387.3,369.0 396.3,368.2 409.8,366.4 415.8,365.4 423.3,363.6 432.3,361.0 439.8,358.4 454.8,352.0 463.8,348.7 480.3,342.9 495.0,338.2" stroke="#ee1c1c" stroke-width="1.3"/>
<path d="M274.8,364.0 289.8,365.5 301.8,367.9 304.8,368.3 327.3,369.9 348.3,370.6 378.3,371.0 387.3,370.8 396.3,370.0 409.8,368.2 415.8,367.2 423.3,365.4 432.3,362.8 439.8,360.2 454.8,353.8 463.8,350.5 480.3,344.7 495.0,340.0" stroke="#ee1c1c" stroke-width="1.3"/>
<path d="M274.8,365.6 280.8,365.9 291.3,367.0 306.3,369.9 328.8,371.5 346.8,372.1 379.8,372.6 388.8,372.4 397.8,371.6 411.3,369.9 417.3,368.9 424.8,367.1 433.8,364.5 441.3,362.0 456.3,355.6 463.8,352.8 480.3,347.0 495.0,342.2" stroke="#ee1c1c" stroke-width="1.3"/>
</g>
<text transform="translate(267.7,245.8) scale(0.83,1)" class="tk" text-anchor="end">0.7</text>
<text transform="translate(267.7,281.4) scale(0.83,1)" class="tk" text-anchor="end">0.5</text>
<text transform="translate(267.7,317.0) scale(0.83,1)" class="tk" text-anchor="end">0.3</text>
<text transform="translate(267.7,352.6) scale(0.83,1)" class="tk" text-anchor="end">0.1</text>
<text transform="translate(267.7,388.2) scale(0.83,1)" class="tk" text-anchor="end">−0.1</text>
<text transform="translate(274.8,390.7) scale(0.82,1)" class="tk2" text-anchor="middle">10</text>
<text transform="translate(338.0,390.7) scale(0.82,1)" class="tk2" text-anchor="middle">20</text>
<text transform="translate(401.2,390.7) scale(0.82,1)" class="tk2" text-anchor="middle">30</text>
<text transform="translate(464.4,390.7) scale(0.82,1)" class="tk2" text-anchor="middle">40</text>
<text x="6" y="13.6" class="pl">(A)</text>
<text x="31.5" y="12.8" class="tt">Uncomplexed target siRNA</text>
<text x="249.8" y="13.6" class="pl">(B)</text>
<text x="276.5" y="12.5" class="tt">Uncomplexed target siRNA</text>
<text x="276.5" y="23.5" class="tt">(and randomized siRNA)</text>
<text x="5.5" y="233.5" class="pl">(C)</text>
<text x="30.7" y="232.3" class="tt">Dendriplexes including target siRNA</text>
<text x="249.9" y="233.5" class="pl">(D)</text>
<text x="276.6" y="232.3" class="tt">Dendriplexes including target siRNA</text>
<text x="276.6" y="243.6" class="tt">(and randomized siRNA)</text>
<text transform="translate(121.2,175.4) scale(0.9,1)" class="cy" text-anchor="middle">Cycle</text>
<text transform="translate(369.4,176.2) scale(0.9,1)" class="cy" text-anchor="middle">Cycle</text>
<text transform="translate(121.6,396.3) scale(0.9,1)" class="cy" text-anchor="middle">Cycle</text>
<text transform="translate(373,395.6) scale(0.9,1)" class="cy" text-anchor="middle">Cycle</text>
<text transform="translate(10.3,93) rotate(-90)" class="rfu" text-anchor="middle">RFU</text>
<text transform="translate(10.3,312) rotate(-90)" class="rfu" text-anchor="middle">RFU</text>
<text x="499.5" y="19.8" class="lh">Target siRNA</text>
<text x="499.5" y="28.0" class="lh">concentration</text>
<line x1="500.8" y1="40.3" x2="511.2" y2="40.3" stroke="#111" stroke-width="1.8"/>
<text x="511.5" y="42.7" class="li">100 nM</text>
<line x1="500.8" y1="52.7" x2="511.2" y2="52.7" stroke="#444" stroke-width="1.8"/>
<text x="511.5" y="55.1" class="li">10 nM</text>
<line x1="500.8" y1="65.1" x2="511.2" y2="65.1" stroke="#666" stroke-width="1.8"/>
<text x="511.5" y="67.5" class="li">1 nM</text>
<line x1="500.8" y1="77.5" x2="511.2" y2="77.5" stroke="#888" stroke-width="1.8"/>
<text x="511.5" y="79.9" class="li">100 pM</text>
<line x1="500.8" y1="89.9" x2="511.2" y2="89.9" stroke="#aaa" stroke-width="1.8"/>
<text x="511.5" y="92.3" class="li">10 pM</text>
<line x1="500.8" y1="102.3" x2="511.2" y2="102.3" stroke="#ccc" stroke-width="1.8"/>
<text x="511.5" y="104.7" class="li">1 pM</text>
<line x1="500.8" y1="114.7" x2="511.2" y2="114.7" stroke="#ee1c1c" stroke-width="1.8"/>
<text x="511.5" y="117.1" class="li">NTC</text>
<text x="499.5" y="244.0" class="lh">Target siRNA</text>
<text x="499.5" y="252.2" class="lh">concentration</text>
<line x1="500.8" y1="264.0" x2="511.2" y2="264.0" stroke="#111" stroke-width="1.8"/>
<text x="511.5" y="266.4" class="li">100 nM</text>
<line x1="500.8" y1="277.1" x2="511.2" y2="277.1" stroke="#333" stroke-width="1.8"/>
<text x="511.5" y="279.4" class="li">31.62 nM</text>
<line x1="500.8" y1="290.1" x2="511.2" y2="290.1" stroke="#444" stroke-width="1.8"/>
<text x="511.5" y="292.5" class="li">10 nM</text>
<line x1="500.8" y1="303.1" x2="511.2" y2="303.1" stroke="#666" stroke-width="1.8"/>
<text x="511.5" y="305.5" class="li">3.162 nM</text>
<line x1="500.8" y1="316.2" x2="511.2" y2="316.2" stroke="#888" stroke-width="1.8"/>
<text x="511.5" y="318.6" class="li">1 nM</text>
<line x1="500.8" y1="329.2" x2="511.2" y2="329.2" stroke="#aaa" stroke-width="1.8"/>
<text x="511.5" y="331.6" class="li">316.2 pM</text>
<line x1="500.8" y1="342.3" x2="511.2" y2="342.3" stroke="#ccc" stroke-width="1.8"/>
<text x="511.5" y="344.7" class="li">100 pM</text>
<line x1="500.8" y1="355.4" x2="511.2" y2="355.4" stroke="#ddd" stroke-width="1.8"/>
<text x="511.5" y="357.8" class="li">31.62 pM</text>
<line x1="500.8" y1="368.4" x2="511.2" y2="368.4" stroke="#ee1c1c" stroke-width="1.8"/>
<text x="511.5" y="370.8" class="li">NTC</text>
</svg>
</body></html>
